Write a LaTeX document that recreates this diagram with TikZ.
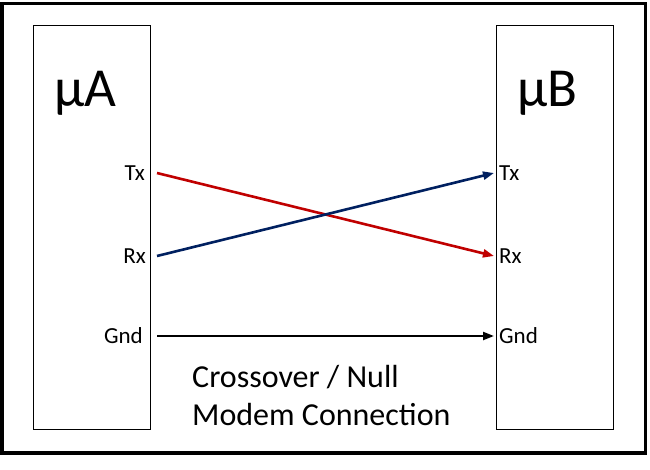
\documentclass[tikz,border=0pt]{standalone}
\usepackage{fontspec}
\setmainfont{Carlito}
\usetikzlibrary{arrows.meta}
\definecolor{txred}{RGB}{192,0,0}
\definecolor{rxblue}{RGB}{0,32,96}

\begin{document}
\begin{tikzpicture}[x=1pt, y=-1pt,
  chip/.style={line width=1pt},
  title/.style={anchor=base west, inner sep=0pt, font=\fontsize{55}{60}\selectfont},
  pinlabel/.style={inner sep=0pt, font=\fontsize{23}{27}\selectfont},
  wire/.style={line width=2.6pt, -{Triangle[length=11pt,width=8pt]}}]

\useasboundingbox (0,0) rectangle (650,469);

\coordinate (ATx) at (157, 173);
\coordinate (ARx) at (157, 256);
\coordinate (AGnd) at (157, 336);
\coordinate (BTx) at (494, 173);
\coordinate (BRx) at (494, 256);
\coordinate (BGnd) at (494, 336);

% frame and the two chips
\draw[line width=3.5pt] (2,3.5) rectangle (645.5,453);
\draw[chip] (33,25) rectangle (150,429);
\draw[chip] (496,25) rectangle (613,429);

\node[title] (muA) at (54,106) {μA};
\node[title] (muB) at (517,106) {μB};

\node[pinlabel, anchor=east] (aTx) at (145,173) {Tx};
\node[pinlabel, anchor=east] (aRx) at (146,256) {Rx};
\node[pinlabel, anchor=east] (aGnd) at (143,336) {Gnd};
\node[pinlabel, anchor=west] (bTx) at (499,173) {Tx};
\node[pinlabel, anchor=west] (bRx) at (499,256) {Rx};
\node[pinlabel, anchor=west] (bGnd) at (499,336) {Gnd};

\draw[wire, txred] (ATx) -- (BRx);
\draw[wire, rxblue] (ARx) -- (BTx);
\draw[wire, black, line width=2.2pt] (AGnd) -- (BGnd);

\node[anchor=base west, inner sep=0pt, align=left,
  font=\fontsize{32}{38}\selectfont] (note) at (192,425)
  {Crossover / Null\\Modem Connection};

\end{tikzpicture}
\end{document}
